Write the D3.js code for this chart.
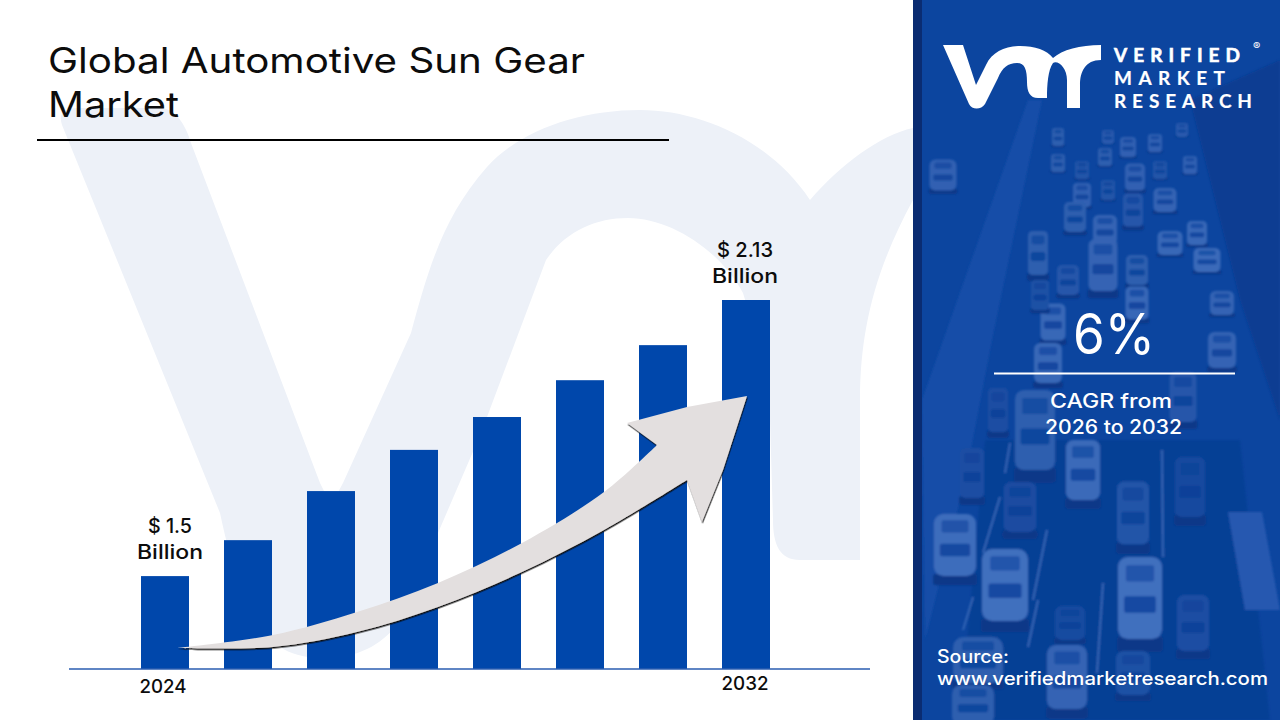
<!DOCTYPE html>
<html>
<head>
<meta charset="utf-8">
<title>Global Automotive Sun Gear Market</title>
<script src="https://cdn.jsdelivr.net/npm/d3@7"></script>
<style>
  html, body { margin: 0; padding: 0; background: #fff; }
  svg { display: block; }
  text { font-family: Inter, "Open Sans", sans-serif; }
</style>
</head>
<body>
<div id="chart"></div>
<script>
// values, the axis does not start at zero
var barSlots = [0, 1, 2, 3, 4, 5, 6, 7];
var marketValues = [1.5, 1.582, 1.694, 1.788, 1.863, 1.947, 2.027, 2.13];
var tickLabels = ['2024', '', '', '', '', '', '', '2032'];
var valueLabels = ['$ 1.5', '', '', '', '', '', '', '$ 2.13'];
var axisFloor = 1.288;

// the photo behind the side panel: x, y, w, h, brightness
var cars = [
  [955,545,42,62,.75],[1005,585,46,72,.8],[1140,598,44,82,.8],[1083,470,34,60,.7],
  [1053,322,25,37,.65],[1048,363,28,40,.65],[1222,350,28,36,.6],[1035,430,40,80,.5],
  [1133,513,32,63,.35],[1020,507,33,50,.22],[1190,487,30,60,.18],[972,473,24,50,.25],
  [998,410,20,44,.25],[1183,397,27,50,.4],[1193,623,32,56,.25],[1070,623,30,34,.2],
  [978,660,50,46,.5],[1067,677,40,64,.6],[1133,673,34,44,.3],[973,705,42,40,.5],
  [943,175,27,31,.55],[1105,230,24,30,.6],[1103,265,29,52,.6],[1082,195,18,24,.55],
  [1075,217,22,30,.5],[1038,253,20,44,.5],[1068,280,22,30,.4],[1135,177,20,27,.55],
  [1137,270,22,30,.5],[1137,303,23,33,.65],[1165,200,23,24,.6],[1170,243,25,24,.65],
  [1197,233,20,24,.65],[1207,260,27,24,.7],[1222,303,24,24,.6],[1133,210,20,33,.4],
  [1105,157,14,18,.5],[1128,147,16,20,.55],[1058,137,12,18,.5],[1155,143,14,18,.55],
  [1190,165,14,18,.55],[1182,130,12,14,.45],[1108,137,12,14,.45],[1082,170,14,18,.35],
  [1058,163,14,18,.5],[1160,170,14,18,.35],[1108,190,14,20,.35],[1040,295,18,30,.3]
];
var laneLines = [
  [1000,497,983,553],[1047,530,1033,600],[1038,600,1028,647],[1103,583,1097,673],
  [1162,450,1163,557],[973,597,963,630],[1010,443,1005,473]
];

var width = 1280, height = 720;
var barColor = '#0047ab', inkColor = '#0c0c0c';

var svg = d3.select('#chart').append('svg')
    .attr('width', width)
    .attr('height', height);

var defs = svg.append('defs');
defs.append('filter').attr('id', 'soft')
  .append('feGaussianBlur').attr('stdDeviation', 1.1);
var arrowShadow = defs.append('filter').attr('id', 'arrowShadow')
    .attr('x', '-5%').attr('y', '-5%').attr('width', '110%').attr('height', '110%');
arrowShadow.append('feDropShadow')
    .attr('dx', 0.6).attr('dy', 1.5).attr('stdDeviation', 0.6)
    .attr('flood-color', '#111');

svg.append('rect').attr('width', width).attr('height', height).attr('fill', '#fff');

// pale logo watermark
svg.append('path')
    .attr('fill', '#edf1f8')
    .attr('d', 'M62,125 C58,113 65,108 78,108 L160,108 C175,108 186,125 191,143 L320,483 L331,505 L343,483 ' +
      'L411,333 C430,262 445,215 487,167 C520,130 580,110 640,110 C700,110 770,140 810,200 C840,165 880,135 913,128 L913,200 ' +
      'C875,270 860,330 860,400 L860,560 L800,560 C780,560 773,545 773,520 L770,420 C762,350 743,293 743,293 ' +
      'C720,250 670,218 628,218 C595,218 565,232 546,260 L481,433 L438,533 C420,600 395,655 330,658 ' +
      'C270,660 245,630 220,513 Z');

// title
var titleLines = [
  {text: 'Global Automotive Sun Gear', y: 73, len: 537},
  {text: 'Market', y: 117, len: 131}
];
svg.selectAll('text.title').data(titleLines).enter().append('text')
    .attr('class', 'title')
    .attr('x', 48)
    .attr('y', function(d) { return d.y; })
    .attr('textLength', function(d) { return d.len; })
    .attr('lengthAdjust', 'spacingAndGlyphs')
    .attr('font-size', 35)
    .attr('fill', inkColor)
    .text(function(d) { return d.text; });

svg.append('line')
    .attr('x1', 37).attr('x2', 669).attr('y1', 140).attr('y2', 140)
    .attr('stroke', '#000').attr('stroke-width', 2);

// scales
var x = d3.scaleBand()
    .domain(barSlots)
    .range([141, 770])
    .paddingInner(35 / 83)
    .paddingOuter(0);

var y = d3.scaleLinear()
    .domain([axisFloor, d3.max(marketValues)])
    .range([669, 300]);

svg.selectAll('rect.bar').data(marketValues).enter().append('rect')
    .attr('class', 'bar')
    .attr('x', function(d, i) { return x(barSlots[i]); })
    .attr('y', function(d) { return y(d); })
    .attr('width', x.bandwidth())
    .attr('height', function(d) { return y(axisFloor) - y(d); })
    .attr('fill', barColor);

// base line runs wider than the bars
svg.append('line')
    .attr('x1', 69).attr('x2', 870).attr('y1', y(axisFloor)).attr('y2', y(axisFloor))
    .attr('stroke', '#2a5db0').attr('stroke-width', 1.5);

var xAxis = d3.axisBottom(x)
    .tickSize(0)
    .tickFormat(function(d, i) { return tickLabels[i]; });

var axisG = svg.append('g')
    .attr('transform', 'translate(0,' + y(axisFloor) + ')')
    .call(xAxis);
axisG.select('.domain').remove();
axisG.selectAll('text')
    .attr('font-size', 19)
    .attr('font-weight', 500)
    .attr('fill', inkColor)
    .attr('font-family', 'Inter, sans-serif')
    .attr('textLength', 47)
    .attr('lengthAdjust', 'spacingAndGlyphs')
    .attr('dx', function(d, i) { return i === 0 ? -2 : -1; })
    .attr('dy', 0)
    .attr('y', function(d, i) { return i === 0 ? 24 : 21; });

// value labels over the first and last bar
var labelled = barSlots.filter(function(d, i) { return valueLabels[i] !== ''; });
labelled.forEach(function(slot) {
  var cx = x(slot) + x.bandwidth() / 2;
  var shift = slot === 0 ? 5 : -1;
  var top = y(marketValues[slot]);
  var g = svg.append('g').attr('text-anchor', 'middle').attr('fill', inkColor)
      .attr('font-size', 20).attr('font-weight', 500);
  g.append('text')
      .attr('x', cx + shift).attr('y', top - 43)
      .attr('textLength', slot === 0 ? 44 : 56)
      .attr('lengthAdjust', 'spacingAndGlyphs')
      .text(valueLabels[slot]);
  g.append('text')
      .attr('x', cx + shift).attr('y', top - 17)
      .attr('textLength', 66)
      .attr('lengthAdjust', 'spacingAndGlyphs')
      .text('Billion');
});

// growth arrow
var arrowTop = [[177,648],[273,635],[357,612],[438,583],[522,543],[604,492],[657,445]];
var arrowHead = [[627,423],[687,407],[747,396],[723,470],[702,522],[687,480]];
var arrowBottom = [[687,480],[604,530],[522,572],[438,607],[357,632],[273,647],[177,648]];
var smooth = d3.line().curve(d3.curveCatmullRom.alpha(0.5));
svg.append('path')
    .attr('fill', '#e3dfdf')
    .attr('filter', 'url(#arrowShadow)')
    .attr('d', smooth(arrowTop) + arrowHead.map(function(p) { return 'L' + p[0] + ',' + p[1]; }).join('') +
      smooth(arrowBottom).replace('M', 'L') + 'Z');

// side panel
var panel = svg.append('g');
panel.append('rect').attr('x', 913).attr('y', 0).attr('width', 367).attr('height', 720).attr('fill', '#0c459f');
var photo = panel.append('g').attr('filter', 'url(#soft)');
photo.append('path').attr('fill', '#154da8').attr('d', 'M1028,100 L1042,100 L992,340 L965,480 L925,640 L922,400 Z');
photo.append('path').attr('fill', '#0a3d92').attr('d', 'M1190,100 L1280,60 L1280,420 L1240,300 Z');
photo.append('path').attr('fill', '#0a3c90').attr('d', 'M985,440 L1240,440 L1270,720 L960,720 Z').attr('opacity', .6);
photo.selectAll('line.lane').data(laneLines).enter().append('line')
    .attr('class', 'lane')
    .attr('x1', function(d) { return d[0]; }).attr('y1', function(d) { return d[1]; })
    .attr('x2', function(d) { return d[2]; }).attr('y2', function(d) { return d[3]; })
    .attr('stroke', '#3f6fbd').attr('stroke-width', 1.5);
photo.selectAll('g.car').data(cars).enter().append('g')
    .attr('class', 'car')
    .each(function(d) {
      var g = d3.select(this), w = d[2], h = d[3], b = d[4];
      var body = d3.interpolateRgb('#0b3f96', '#4f7cc8')(b);
      var glass = d3.interpolateRgb('#0b3f96', '#174ca5')(b);
      // shadow under the car, then body and rear window
      g.append('rect').attr('x', d[0] - w / 2 - 1).attr('y', d[1] + h / 2 - 2).attr('width', w + 2).attr('height', h * .18)
          .attr('rx', 3).attr('fill', '#093788');
      g.append('rect').attr('x', d[0] - w / 2).attr('y', d[1] - h / 2).attr('width', w).attr('height', h)
          .attr('rx', Math.min(w, h) * .22).attr('fill', body);
      g.append('rect').attr('x', d[0] - w * .36).attr('y', d[1] - h * .02).attr('width', w * .72).attr('height', h * .2)
          .attr('rx', 2).attr('fill', glass);
      g.append('rect').attr('x', d[0] - w * .32).attr('y', d[1] - h * .4).attr('width', w * .64).attr('height', h * .2)
          .attr('rx', 2).attr('fill', glass).attr('opacity', .7);
    });
// truck bed on the right
photo.append('path').attr('fill', '#2559b0').attr('d', 'M1228,512 L1262,512 L1280,610 L1245,610 Z');

panel.append('rect').attr('x', 913).attr('y', 0).attr('width', 9).attr('height', 720).attr('fill', '#0a2c72');

// logo mark
panel.append('path')
    .attr('fill', '#fff')
    .attr('d', 'M943,45 L963,45 L976,85 L986,65 C992,52 1005,46 1020,46 C1035,46 1047,50 1053,58 C1062,50 1080,45 1101,45 ' +
      'L1101,60 C1085,60 1080,72 1080,85 L1080,108 L1067,108 L1067,80 C1067,68 1058,60 1053,63 C1048,70 1047,85 1047,98 ' +
      'L1038,98 C1030,98 1027,92 1027,82 C1027,70 1025,63 1017,63 C1008,63 1002,68 998,78 L985,104 C981,110 972,110 969,104 Z');

var logoLines = [
  {text: 'VERIFIED', y: 62, len: 126, edge: 0.6},
  {text: 'MARKET', y: 85, len: 111, edge: 0.2},
  {text: 'RESEARCH', y: 108, len: 138, edge: 0.2}
];
panel.selectAll('text.logo').data(logoLines).enter().append('text')
    .attr('class', 'logo')
    .attr('x', 1114)
    .attr('y', function(d) { return d.y; })
    .attr('textLength', function(d) { return d.len; })
    .attr('font-size', 19)
    .attr('font-weight', 700)
    .attr('fill', '#fff')
    .attr('stroke', '#fff')
    .attr('stroke-width', function(d) { return d.edge; })
    .style('font-family', 'Lato, sans-serif')
    .text(function(d) { return d.text; });
panel.append('text')
    .attr('x', 1253).attr('y', 50).attr('font-size', 11).attr('fill', '#fff')
    .text('®');

// CAGR block
panel.append('text')
    .attr('x', 1073).attr('y', 354).attr('textLength', 82)
    .attr('lengthAdjust', 'spacingAndGlyphs')
    .attr('font-size', 56).attr('font-weight', 400).attr('fill', '#fff')
    .text('6%');
panel.append('line')
    .attr('x1', 994).attr('x2', 1235).attr('y1', 373.5).attr('y2', 373.5)
    .attr('stroke', '#fff').attr('stroke-width', 2);

var panelLines = [
  {text: 'CAGR from', x: 1050, y: 408, len: 122, size: 20},
  {text: '2026 to 2032', x: 1045, y: 434, len: 137, size: 20},
  {text: 'Source:', x: 937, y: 663, len: 72, size: 18},
  {text: 'www.verifiedmarketresearch.com', x: 937, y: 685, len: 331, size: 18}
];
panel.selectAll('text.note').data(panelLines).enter().append('text')
    .attr('class', 'note')
    .attr('x', function(d) { return d.x; })
    .attr('y', function(d) { return d.y; })
    .attr('textLength', function(d) { return d.len; })
    .attr('lengthAdjust', 'spacingAndGlyphs')
    .attr('font-size', function(d) { return d.size; })
    .attr('font-weight', 500)
    .attr('fill', '#fff')
    .text(function(d) { return d.text; });
</script>
</body>
</html>
